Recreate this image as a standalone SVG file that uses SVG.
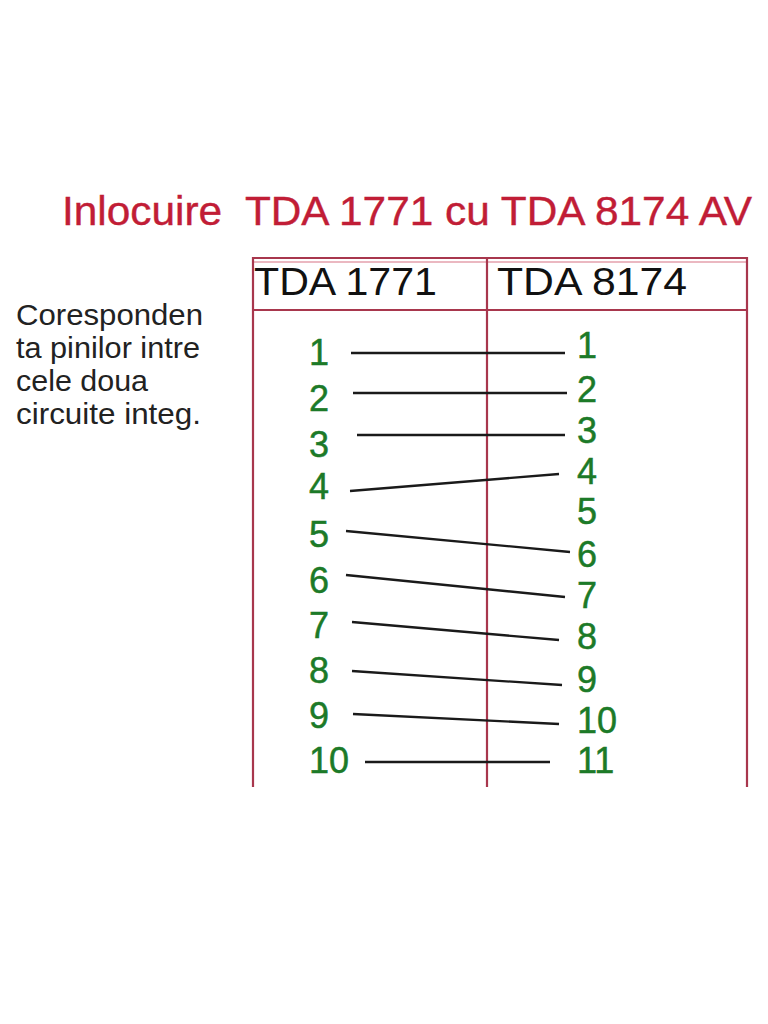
<svg xmlns="http://www.w3.org/2000/svg" width="768" height="1024" viewBox="0 0 768 1024">
<style>
.title{font-family:"Liberation Sans",Arial,sans-serif;font-size:41px;fill:#c11d36;stroke:#c11d36;stroke-width:0.4}
.head{font-family:"Liberation Sans",Arial,sans-serif;font-size:39px;fill:#111}
.note{font-family:"Liberation Sans",Arial,sans-serif;font-size:30px;fill:#222}
.num{font-family:"Liberation Sans",Arial,sans-serif;font-size:36px;fill:#1c7a28;stroke:#1c7a28;stroke-width:0.5}
.tbl{stroke:#a8374d;stroke-width:2.2;fill:none}
.wire{stroke:#1a1a1a;stroke-width:2.3;fill:none}
</style>
<rect width="768" height="1024" fill="#fff"/>
<text class="title" x="62" y="225" textLength="690" lengthAdjust="spacingAndGlyphs" xml:space="preserve">Inlocuire  TDA 1771 cu TDA 8174 AV</text>
<g id="table">
<line class="tbl" x1="253" y1="258" x2="747" y2="258"/>
<line x1="253" y1="262" x2="747" y2="262" stroke="#e4a0ac" stroke-width="1.5"/>
<line class="tbl" x1="253" y1="310" x2="747" y2="310"/>
<line class="tbl" x1="253" y1="257" x2="253" y2="787"/>
<line class="tbl" x1="487" y1="257" x2="487" y2="787"/>
<line class="tbl" x1="747" y1="257" x2="747" y2="787"/>
<text class="head" x="254" y="295" textLength="183" lengthAdjust="spacingAndGlyphs">TDA 1771</text>
<text class="head" x="497" y="295" textLength="190" lengthAdjust="spacingAndGlyphs">TDA 8174</text>
</g>
<g id="note">
<text class="note" x="16" y="325" textLength="187" lengthAdjust="spacingAndGlyphs">Coresponden</text>
<text class="note" x="16" y="358" textLength="184" lengthAdjust="spacingAndGlyphs">ta pinilor intre</text>
<text class="note" x="16" y="391" textLength="132" lengthAdjust="spacingAndGlyphs">cele doua</text>
<text class="note" x="16" y="424" textLength="185" lengthAdjust="spacingAndGlyphs">circuite integ.</text>
</g>
<g id="pins-1771">
<text class="num" x="309" y="365">1</text>
<text class="num" x="309" y="411">2</text>
<text class="num" x="309" y="457">3</text>
<text class="num" x="309" y="499">4</text>
<text class="num" x="309" y="547">5</text>
<text class="num" x="309" y="593">6</text>
<text class="num" x="309" y="638">7</text>
<text class="num" x="309" y="683">8</text>
<text class="num" x="309" y="728">9</text>
<text class="num" x="309" y="773">10</text>
</g>
<g id="pins-8174">
<text class="num" x="577" y="358">1</text>
<text class="num" x="577" y="402">2</text>
<text class="num" x="577" y="443">3</text>
<text class="num" x="577" y="484">4</text>
<text class="num" x="577" y="524">5</text>
<text class="num" x="577" y="567">6</text>
<text class="num" x="577" y="608">7</text>
<text class="num" x="577" y="649">8</text>
<text class="num" x="577" y="692">9</text>
<text class="num" x="577" y="733">10</text>
<text class="num" x="577" y="773">11</text>
</g>
<g id="connectors">
<line class="wire" x1="351" y1="353" x2="565" y2="353"/>
<line class="wire" x1="353" y1="393" x2="567" y2="393"/>
<line class="wire" x1="357" y1="435" x2="565" y2="435"/>
<line class="wire" x1="350" y1="491" x2="559" y2="474"/>
<line class="wire" x1="346" y1="531" x2="570" y2="552"/>
<line class="wire" x1="346" y1="575" x2="565" y2="597"/>
<line class="wire" x1="352" y1="622" x2="559" y2="640"/>
<line class="wire" x1="352" y1="671" x2="562" y2="685"/>
<line class="wire" x1="353" y1="714" x2="559" y2="724"/>
<line class="wire" x1="365" y1="762" x2="550" y2="762"/>
</g>
</svg>
